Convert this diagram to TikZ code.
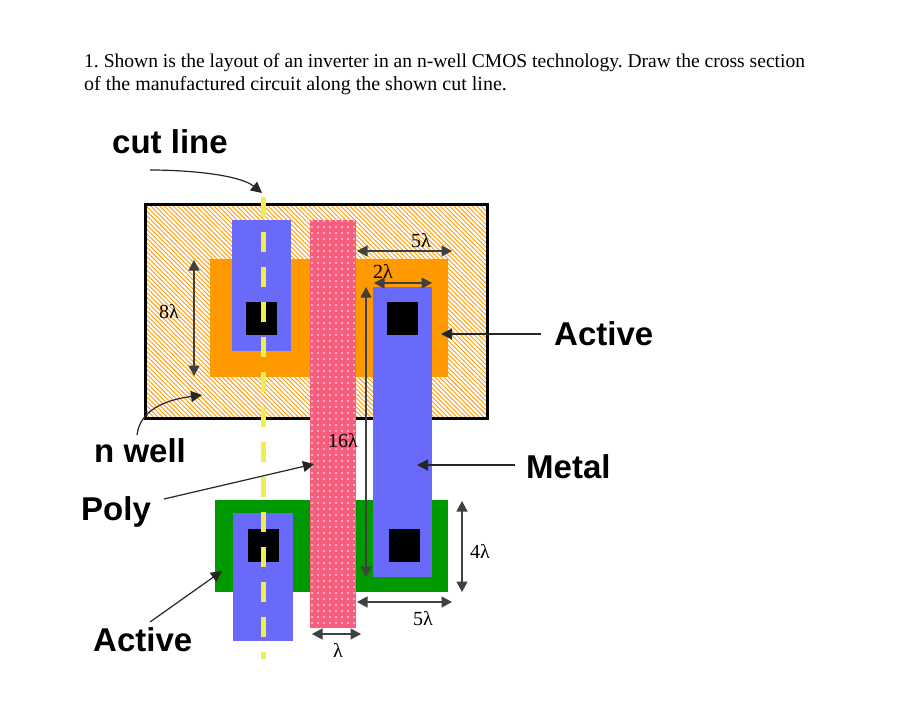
\documentclass[tikz,border=0pt]{standalone}
\usepackage{fontspec}
\setmainfont{Liberation Serif}
\newfontfamily\labelfont{Liberation Sans}
\usetikzlibrary{arrows.meta,patterns.meta}

\definecolor{wellorange}{RGB}{255,153,0}
\definecolor{activegreen}{RGB}{0,153,0}
\definecolor{metalblue}{RGB}{105,105,250}
\definecolor{polyred}{RGB}{245,95,125}
\definecolor{cutyellow}{RGB}{238,238,80}

\tikzset{
  callout/.style={font=\labelfont\fontsize{33}{33}\selectfont\bfseries, inner sep=0pt},
  dimtext/.style={font=\fontsize{20}{20}\selectfont, inner sep=0pt},
  dimline/.style={{Triangle[length=10.5pt,width=11pt]}-{Triangle[length=10.5pt,width=11pt]}, draw=black!75, line width=1.2pt},
  pointer/.style={-{Triangle[length=11pt,width=11pt]}, draw=black!85, line width=1.2pt},
  metal/.style={fill=metalblue},
  poly/.style={fill=polyred, postaction={pattern={Dots[distance=6pt,radius=0.85pt]}, pattern color=white}},
}

\begin{document}
\frenchspacing
\begin{tikzpicture}[x=1pt,y=-1pt]
\useasboundingbox (0,0) rectangle (897,707);
\fill[white] (0,0) rectangle (897,707);

% Title
\node[anchor=base west, inner sep=0pt, font=\fontsize{19.55}{19.55}\selectfont] (line1) at (84,67)
  {1. Shown is the layout of an inverter in an n-well CMOS technology. Draw the cross section};
\node[anchor=base west, inner sep=0pt, font=\fontsize{20}{20}\selectfont] (line2) at (84,90)
  {of the manufactured circuit along the shown cut line.};

% n well
\fill[pattern={Lines[angle=-45,distance=3.2pt,line width=0.9pt]}, pattern color=wellorange] (145,204) rectangle (487,418);
\draw[line width=3pt] (145,204) rectangle (487,418);

% Active regions
\fill[wellorange] (210,259) rectangle (448,377);
\fill[activegreen] (215,500) rectangle (448,592);

% Metal
\path[metal] (232,220) rectangle (291,351);
\path[metal] (233,513) rectangle (293,641);
\path[metal] (373,287) rectangle (432,577);

% Poly
\path[poly] (310,220) rectangle (356,628);

% Contacts
\foreach \x/\y in {246/302, 387/302, 248/529, 389/529} {
    \fill[black] (\x,\y) rectangle ++(31,33);
}

% Cut line
\foreach \y in {197,232,...,617} {
    \fill[cutyellow] (260.5,\y) rectangle ++(5,20);
}
\fill[cutyellow] (260.5,652) rectangle ++(5,7);

% Anchors of the connectors
\coordinate (cuttip) at (262,193);
\coordinate (wellstart) at (137,435);
\coordinate (welltip) at (202,395);
\coordinate (polytip) at (314,464);
\coordinate (greentip) at (222,571);
\coordinate (orangetip) at (441,334);
\coordinate (metaltip) at (417,465);

% Labels
\node[callout, anchor=west] (cutlabel) at (112,142) {cut line};
\node[callout, anchor=west] (welllabel) at (94,451) {n well};
\node[callout, anchor=west] (polylabel) at (81,512) {Poly};
\node[callout, anchor=west] (activeb) at (93,640) {Active};
\node[callout, anchor=west] (activet) at (554,334) {Active};
\node[callout, anchor=west] (metallabel) at (526,467) {Metal};

% Pointers
\coordinate (cutstart) at (150,170);
\draw[pointer] (cutstart) .. controls (190,170) and (240,175) .. (cuttip);
\draw[pointer] (wellstart) .. controls (140,410) and (165,400) .. (welltip);
\coordinate (polystart) at (164,499);
\draw[pointer] (polystart) -- (polytip);
\coordinate (greenstart) at (150,622);
\draw[pointer] (greenstart) -- (greentip);
\coordinate (orangestart) at (541,334);
\draw[pointer] (orangestart) -- (orangetip);
\coordinate (metalstart) at (515,465);
\draw[pointer] (metalstart) -- (metaltip);

% Dimensions
\foreach \ax/\ay/\bx/\by in {194/260/194/376, 357/251/452/251, 374/283/432/283, 366/287/366/577, 462/501/462/592, 357/602/452/602, 312/634/361/634} {
    \draw[dimline] (\ax,\ay) -- (\bx,\by);
}
\foreach \x/\y/\lab in {169/312/8λ, 421/241/5λ, 383/271/2λ, 343/441/16λ, 480/551/4λ, 423/619/5λ, 338/650/λ} {
    \node[dimtext] at (\x,\y) {\lab};
}
\end{tikzpicture}
\end{document}
